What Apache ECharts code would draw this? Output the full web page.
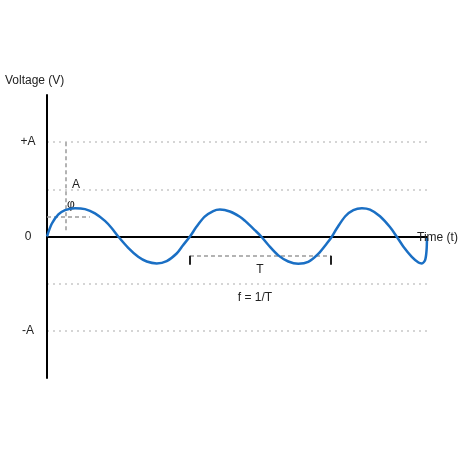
<!DOCTYPE html>
<html><head><meta charset="utf-8">
<script src="https://cdn.jsdelivr.net/npm/echarts@6/dist/echarts.min.js"></script>
<style>html,body{margin:0;padding:0;background:#fff}#c{width:474px;height:474px}</style>
</head><body><div id="c"></div>
<script>
// Time samples and voltage values
const timeValues = [0, 0.10, 0.24, 0.38, 0.59, 0.80, 1.01, 1.22, 1.36, 1.50, 1.71, 1.92, 2.10, 2.31, 2.52, 2.73, 2.86, 3.01, 3.15, 3.32, 3.50, 3.64, 3.85, 4.06, 4.17, 4.38, 4.51, 4.66, 4.87, 5.08, 5.29, 5.50, 5.71, 5.89, 6.00, 6.10, 6.28, 6.45, 6.63, 6.80, 7.01, 7.22, 7.36, 7.50, 7.68, 7.82, 7.89, 7.96, 7.99, 8.0];
const voltageValues = [0, 0.27, 0.47, 0.56, 0.60, 0.58, 0.49, 0.33, 0.18, 0, -0.24, -0.43, -0.53, -0.57, -0.52, -0.36, -0.19, 0, 0.21, 0.42, 0.54, 0.57, 0.53, 0.42, 0.33, 0.13, 0, -0.18, -0.40, -0.53, -0.58, -0.54, -0.37, -0.15, 0, 0.17, 0.43, 0.56, 0.60, 0.57, 0.43, 0.20, 0, -0.21, -0.43, -0.55, -0.57, -0.50, -0.30, -0.03];
// Y tick labels
const yTickValues = [2, 0, -2];
const yTickLabels = ['+A', '0', '-A'];
// Annotation geometry in data units
const amplitudeMarker = [[0.4, 2], [0.4, 0.1]];
const phaseMarker = [[0, 0.42], [0.9, 0.42]];
const periodMarker = [[3.01, -0.41], [5.98, -0.41]];
const periodTickBottom = -0.6;

const FONT = '"Liberation Sans", Arial, sans-serif';
const chart = echarts.init(document.getElementById('c'), null, {renderer: 'canvas'});
const data = timeValues.map((t, i) => [t, voltageValues[i]]);
const dashed = {color: '#9a9a9a', type: [4, 3], width: 1.5};
const tickStyle = {color: '#222', type: 'solid', width: 2};
const gridColor = '#c8c8c8', none = 'rgba(0,0,0,0)';

chart.setOption({
  animation: false,
  backgroundColor: '#fff',
  grid: {left: 47, right: 47, top: 95, bottom: 96, containLabel: false},
  xAxis: {
    type: 'value', min: 0, max: 8,
    axisLine: {show: true, onZero: true, lineStyle: {color: '#000', width: 2}},
    axisTick: {show: false}, axisLabel: {show: false}, splitLine: {show: false}
  },
  yAxis: {
    type: 'value', min: -3, max: 3, interval: 1,
    axisLine: {show: true, lineStyle: {color: '#000', width: 2}},
    axisTick: {show: false},
    axisLabel: {
      align: 'center', margin: 19, color: '#222', fontSize: 12, fontFamily: FONT,
      formatter: v => { const i = yTickValues.indexOf(v); return i >= 0 ? yTickLabels[i] : ''; }
    },
    splitLine: {show: true, lineStyle: {
      color: [none, gridColor, gridColor, none, gridColor, gridColor, none],
      type: [2, 4], width: 1.5}}
  },
  series: [{
    type: 'line', data: data, smooth: 0.3, symbol: 'none',
    lineStyle: {color: '#1a6fc4', width: 2.5}, z: 5,
    markLine: {
      silent: true, symbol: ['none', 'none'], label: {show: false}, animation: false,
      data: [
        [{coord: amplitudeMarker[0], lineStyle: dashed}, {coord: amplitudeMarker[1]}],
        [{coord: phaseMarker[0], lineStyle: dashed}, {coord: phaseMarker[1]}],
        [{coord: periodMarker[0], lineStyle: dashed}, {coord: periodMarker[1]}],
        [{coord: periodMarker[0], lineStyle: tickStyle}, {coord: [periodMarker[0][0], periodTickBottom]}],
        [{coord: periodMarker[1], lineStyle: tickStyle}, {coord: [periodMarker[1][0], periodTickBottom]}]
      ]
    }
  }],
  graphic: [
    {type: 'text', x: 5, y: 81, style: {text: 'Voltage (V)', font: '12px ' + FONT, fill: '#222', textVerticalAlign: 'middle'}},
    {type: 'text', x: 417, y: 238, z: 10, style: {text: 'Time (t)', font: '12px ' + FONT, fill: '#222', textVerticalAlign: 'middle'}},
    {type: 'text', x: 76, y: 185, style: {text: 'A', font: '12px ' + FONT, fill: '#222', textAlign: 'center', textVerticalAlign: 'middle'}},
    {type: 'text', x: 71, y: 205, style: {text: 'φ', font: '12px ' + FONT, fill: '#222', textAlign: 'center', textVerticalAlign: 'middle'}},
    {type: 'text', x: 260, y: 270, style: {text: 'T', font: '12px ' + FONT, fill: '#222', textAlign: 'center', textVerticalAlign: 'middle'}},
    {type: 'text', x: 255, y: 298, style: {text: 'f = 1/T', font: '12px ' + FONT, fill: '#222', textAlign: 'center', textVerticalAlign: 'middle'}}
  ]
});
</script></body></html>
